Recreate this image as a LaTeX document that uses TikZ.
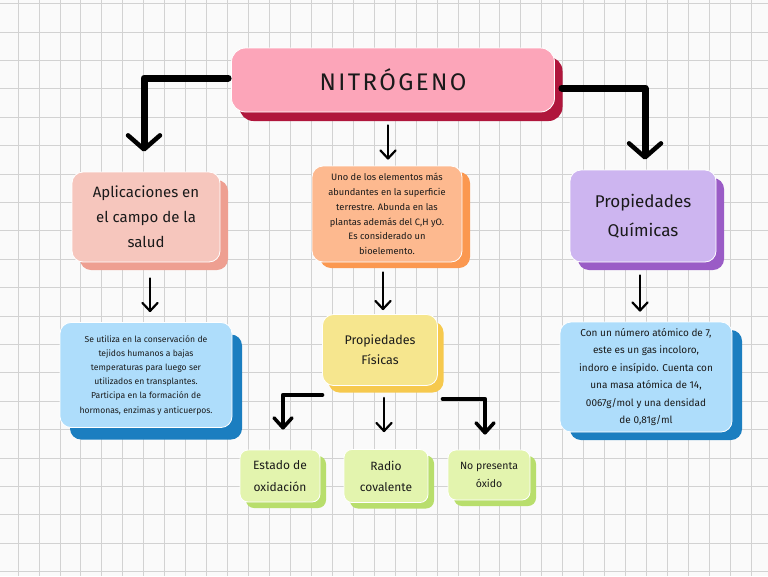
\documentclass[tikz,border=0pt]{standalone}
\usepackage{fontspec}
\setmainfont{Fira Sans}
\usetikzlibrary{arrows.meta,shadows}

\definecolor{paper}{HTML}{FAFAFA}
\definecolor{gridgray}{HTML}{D2D2D2}
\definecolor{ink}{HTML}{1A1A1A}
\definecolor{pinkfill}{HTML}{FCA5B9}
\definecolor{pinkshade}{HTML}{B0163C}
\definecolor{salmonfill}{HTML}{F6C6BD}
\definecolor{salmonshade}{HTML}{EE9F91}
\definecolor{orangefill}{HTML}{FDB98F}
\definecolor{orangeshade}{HTML}{FB9850}
\definecolor{lilacfill}{HTML}{CDB5F0}
\definecolor{lilacshade}{HTML}{9A5CC6}
\definecolor{bluefill}{HTML}{AEDDFB}
\definecolor{blueshade}{HTML}{1B7EC0}
\definecolor{yellowfill}{HTML}{F6E68E}
\definecolor{yellowshade}{HTML}{F6C94E}
\definecolor{greenfill}{HTML}{E3F4AE}
\definecolor{greenshade}{HTML}{B8DE6C}

\begin{document}
\begin{tikzpicture}[x=1pt,y=-1pt,
  box/.style={rounded corners=11pt, draw=white, line width=0.8pt, align=center, text=ink, inner sep=2pt},
  boxof/.style n args={4}{fill=#1, general shadow={fill=#2, shadow xshift=#3, shadow yshift=#4}},
  size/.style 2 args={font={\fontsize{#1}{#2}\selectfont}},
  bigarrow/.style={line width=7pt, line join=round, line cap=round,
    -{Straight Barb[round, length=14pt, width=32pt, line width=4.5pt]}},
  midarrow/.style={line width=4.5pt, line join=round, line cap=round,
    -{Straight Barb[round, length=10pt, width=18pt, line width=3.5pt]}},
  thinarrow/.style={line width=2.4pt, line cap=round,
    -{Straight Barb[round, length=8pt, width=15pt, line width=2.2pt]}}]

%paper and grid
\useasboundingbox (0,0) rectangle (768,576);
\fill[paper] (0,0) rectangle (768,576);
\foreach \i in {1,...,37}
\draw[gridgray, line width=0.7pt] ({-3+20.95*\i},0) -- ({-3+20.95*\i},576);
\foreach \j in {0,...,20}
\draw[gridgray, line width=0.7pt] (0,{3.5+28.4*\j}) -- (768,{3.5+28.4*\j});

%title
\node[box, boxof={pinkfill}{pinkshade}{8pt}{-9pt}, rounded corners=14pt, minimum width=323pt, minimum height=64pt,
  font={\fontsize{24}{28}\selectfont\addfontfeature{LetterSpace=10}}] (nitro) at (393,80) {NITRÓGENO};

%second row
\node[box, boxof={salmonfill}{salmonshade}{8pt}{-8pt}, size={15}{25}, minimum width=148pt, minimum height=90pt] (aplic) at (146,217)
  {Aplicaciones en\\el campo de la\\salud};
\node[box, boxof={orangefill}{orangeshade}{8pt}{-6pt}, size={9.3}{14.8}, minimum width=150pt, minimum height=96pt] (elem) at (387,214)
  {Uno de los elementos más\\abundantes en la superficie\\terrestre. Abunda en las\\plantas además del C,H yO.\\Es considerado un\\bioelemento.};
\node[box, boxof={lilacfill}{lilacshade}{8pt}{-8pt}, size={17}{29}, minimum width=146pt, minimum height=92pt] (quim) at (643,216)
  {Propiedades\\Químicas};

%third row
\node[box, boxof={bluefill}{blueshade}{10pt}{-12pt}, size={8.6}{14.2}, minimum width=172pt, minimum height=105pt] (usos) at (146,375)
  {Se utiliza en la conservación de\\tejidos humanos a bajas\\temperaturas para luego ser\\utilizados en transplantes.\\Participa en la formación de\\hormonas, enzimas y anticuerpos.};
\node[box, boxof={yellowfill}{yellowshade}{6pt}{-7pt}, size={12.5}{20}, minimum width=115pt, minimum height=71pt] (fisic) at (380,350)
  {Propiedades\\Físicas};
\node[box, boxof={bluefill}{blueshade}{10pt}{-8pt}, size={10}{17.4}, minimum width=172pt, minimum height=110pt] (datos) at (646,377)
  {Con un número atómico de 7,\\este es un gas incoloro,\\indoro e insípido. Cuenta con\\una masa atómica de 14,\\0067g/mol y una densidad\\de 0,81g/ml};

%fourth row
\node[box, boxof={greenfill}{greenshade}{6pt}{-6pt}, size={12}{22}, rounded corners=8pt, minimum width=80pt, minimum height=52pt] (oxid) at (280,476)
  {Estado de\\oxidación};
\node[box, boxof={greenfill}{greenshade}{6pt}{-6pt}, size={12}{21}, rounded corners=8pt, minimum width=84pt, minimum height=53pt] (radio) at (386,476)
  {Radio\\covalente};
\node[box, boxof={greenfill}{greenshade}{6pt}{-6pt}, size={10.5}{18}, rounded corners=8pt, minimum width=82pt, minimum height=50pt] (oxido) at (489,475)
  {No presenta\\óxido};

%arrows from the title
\draw[bigarrow] ([xshift=-3pt,yshift=2pt]nitro.west) -| ([xshift=-2pt,yshift=20pt]aplic.north);
\draw[bigarrow] ([xshift=7pt,yshift=-8pt]nitro.east) -| ([xshift=2pt,yshift=10pt]quim.north);
\draw[thinarrow] ([xshift=-5pt,yshift=-13pt]nitro.south) -- ([xshift=1pt,yshift=6pt]elem.north);

%arrows to the third row
\draw[thinarrow] ([xshift=4pt,yshift=-16pt]aplic.south) -- ([xshift=4pt,yshift=10pt]usos.north);
\draw[thinarrow] ([xshift=-4pt,yshift=-10pt]elem.south) -- ([xshift=3pt,yshift=4pt]fisic.north);
\draw[thinarrow] ([xshift=-3pt,yshift=-13pt]quim.south) -- ([xshift=-6pt,yshift=10pt]datos.north);

%arrows from the yellow box
\draw[midarrow] ([yshift=-9pt]fisic.south west) -| ([xshift=3pt,yshift=20pt]oxid.north);
\draw[thinarrow] ([xshift=4pt,yshift=-12pt]fisic.south) -- ([xshift=-2pt,yshift=17pt]radio.north);
\draw[midarrow] ([xshift=5pt,yshift=-13pt]fisic.south east) -| ([xshift=-4pt,yshift=15pt]oxido.north);

\end{tikzpicture}
\end{document}
